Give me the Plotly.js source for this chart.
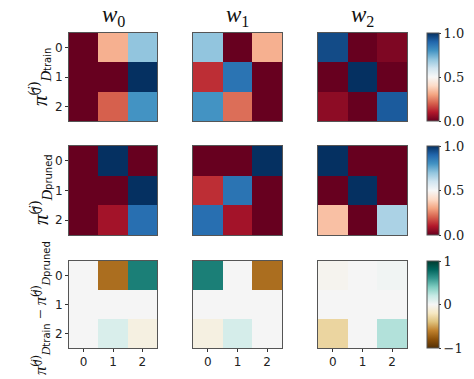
<!DOCTYPE html>
<html><head><meta charset="utf-8">
<script src="https://cdn.plot.ly/plotly-3.0.1.min.js"></script>
<style>body{margin:0;padding:0;background:#fff}#plot{width:474px;height:379px}</style>
</head><body><div id="plot"></div>
<script>
// ---- data ----
const colLabels = ["w0", "w1", "w2"];
const tickLabels = ["0", "1", "2"];
// pi_train per weight (rows x cols)
const trainW0 = [[0, 0.32, 0.70], [0, 0, 1.0], [0, 0.20, 0.80]];
const trainW1 = [[0.70, 0, 0.32], [0.13, 0.87, 0], [0.80, 0.22, 0]];
const trainW2 = [[0.95, 0, 0.03], [0, 1.0, 0], [0.05, 0, 0.92]];
// pi_pruned per weight
const prunedW0 = [[0, 1.0, 0], [0, 0, 1.0], [0, 0.08, 0.88]];
const prunedW1 = [[0, 0, 1.0], [0.13, 0.87, 0], [0.88, 0.08, 0]];
const prunedW2 = [[1.0, 0, 0], [0, 1.0, 0], [0.35, 0, 0.66]];
// difference train - pruned
const diffW0 = [[0, -0.68, 0.70], [0, 0, 0], [0, 0.12, -0.08]];
const diffW1 = [[0.70, 0, -0.68], [0, 0, 0], [-0.08, 0.14, 0]];
const diffW2 = [[-0.03, 0, 0.02], [0, 0, 0], [-0.30, 0, 0.26]];

const rdbu = [[0,'#67001f'],[0.1,'#b2182b'],[0.2,'#d6604d'],[0.3,'#f4a582'],[0.4,'#fddbc7'],[0.5,'#f7f7f7'],[0.6,'#d1e5f0'],[0.7,'#92c5de'],[0.8,'#4393c3'],[0.9,'#2166ac'],[1,'#053061']];
const brbg = [[0,'#543005'],[0.1,'#8c510a'],[0.2,'#bf812d'],[0.3,'#dfc27d'],[0.4,'#f6e8c3'],[0.5,'#f5f5f5'],[0.6,'#c7eae5'],[0.7,'#80cdc1'],[0.8,'#35978f'],[0.9,'#01665e'],[1,'#003c30']];

const W = 474, H = 379;
const rowsData = [[trainW0, trainW1, trainW2], [prunedW0, prunedW1, prunedW2], [diffW0, diffW1, diffW2]];
const colPx = [[69, 157], [193, 282], [318, 407]];
const rowPx = [[33, 121], [146, 235], [261, 348]];
const px2x = p => p / W, px2y = p => 1 - p / H;

const data = [];
const layout = {
  width: W, height: H, margin: {l: 0, r: 0, t: 0, b: 0},
  paper_bgcolor: '#fff', plot_bgcolor: '#fff', showlegend: false,
  annotations: []
};
const tickFont = {family: 'DejaVu Sans', size: 12, color: '#222'};
let k = 0;
for (let r = 0; r < 3; r++) {
  for (let c = 0; c < 3; c++) {
    k++;
    const xa = k === 1 ? 'x' : 'x' + k, ya = k === 1 ? 'y' : 'y' + k;
    data.push({
      type: 'heatmap', z: rowsData[r][c], x: [0, 1, 2], y: [0, 1, 2],
      xaxis: xa, yaxis: ya, coloraxis: r === 0 ? 'coloraxis' : 'coloraxis' + (r + 1),
      hoverinfo: 'none'
    });
    const axBase = {showline: true, mirror: true, linecolor: '#555', linewidth: 1,
      showgrid: false, zeroline: false, ticks: 'outside', ticklen: 3, tickcolor: '#333',
      tickfont: tickFont, tickvals: [0, 1, 2], ticktext: tickLabels, fixedrange: true};
    layout['xaxis' + (k === 1 ? '' : k)] = Object.assign({}, axBase, {
      domain: [px2x(colPx[c][0]), px2x(colPx[c][1])], anchor: ya,
      range: [-0.5, 2.5], showticklabels: r === 2, ticks: r === 2 ? 'outside' : ''
    });
    layout['yaxis' + (k === 1 ? '' : k)] = Object.assign({}, axBase, {
      domain: [px2y(rowPx[r][1]), px2y(rowPx[r][0])], anchor: xa,
      range: [2.5, -0.5], showticklabels: c === 0, ticks: c === 0 ? 'outside' : ''
    });
  }
}
const cbFont = {family: 'DejaVu Serif', size: 13, color: '#222'};
for (let r = 0; r < 3; r++) {
  const key = r === 0 ? 'coloraxis' : 'coloraxis' + (r + 1);
  const isDiff = r === 2;
  layout[key] = {
    colorscale: isDiff ? brbg : rdbu, cmin: isDiff ? -1 : 0, cmax: 1,
    colorbar: {
      x: px2x(427), xanchor: 'left', xpad: 0, ypad: 0,
      y: px2y((rowPx[r][0] + rowPx[r][1]) / 2), yanchor: 'middle',
      len: (rowPx[r][1] - rowPx[r][0]) / H, lenmode: 'fraction',
      thickness: 12, outlinecolor: '#555', outlinewidth: 1,
      ticks: 'outside', ticklen: 2, tickcolor: '#333', tickfont: cbFont,
      tickvals: isDiff ? [-1, 0, 1] : [0, 0.5, 1],
      ticktext: isDiff ? ['\u22121', '0', '1'] : ['0.0', '0.5', '1.0']
    }
  };
}
// column titles
const titleFont = {family: 'Liberation Serif', size: 23, color: '#111'};
for (let c = 0; c < 3; c++) {
  layout.annotations.push({
    xref: 'paper', yref: 'paper', x: px2x((colPx[c][0] + colPx[c][1]) / 2), y: px2y(32),
    xanchor: 'center', yanchor: 'bottom', showarrow: false, font: titleFont,
    text: '<i>w</i><sub>' + c + '</sub>'
  });
}
// row labels
const sm = '<span style="font-family:DejaVu Sans;font-size:10px">';
const piT = '<i>π\u0302</i><sup>(<i>j</i>)</sup><sub><i>D</i>' + sm + 'train</span></sub>';
const piP = '<i>π\u0302</i><sup>(<i>j</i>)</sup><sub><i>D</i>' + sm + 'pruned</span></sub>';
const rowLabels = [piT, piP, piT + ' − ' + piP];
const lblSizes = [21, 21, 17];
const lblY = [77, 190, 308];
for (let r = 0; r < 3; r++) {
  layout.annotations.push({
    xref: 'paper', yref: 'paper', x: px2x(40), y: px2y(lblY[r]),
    xanchor: 'center', yanchor: 'middle', showarrow: false, textangle: -90,
    font: {family: 'Liberation Serif', size: lblSizes[r], color: '#111'},
    text: rowLabels[r]
  });
}
Plotly.newPlot('plot', data, layout, {displayModeBar: false, staticPlot: true});
</script></body></html>
